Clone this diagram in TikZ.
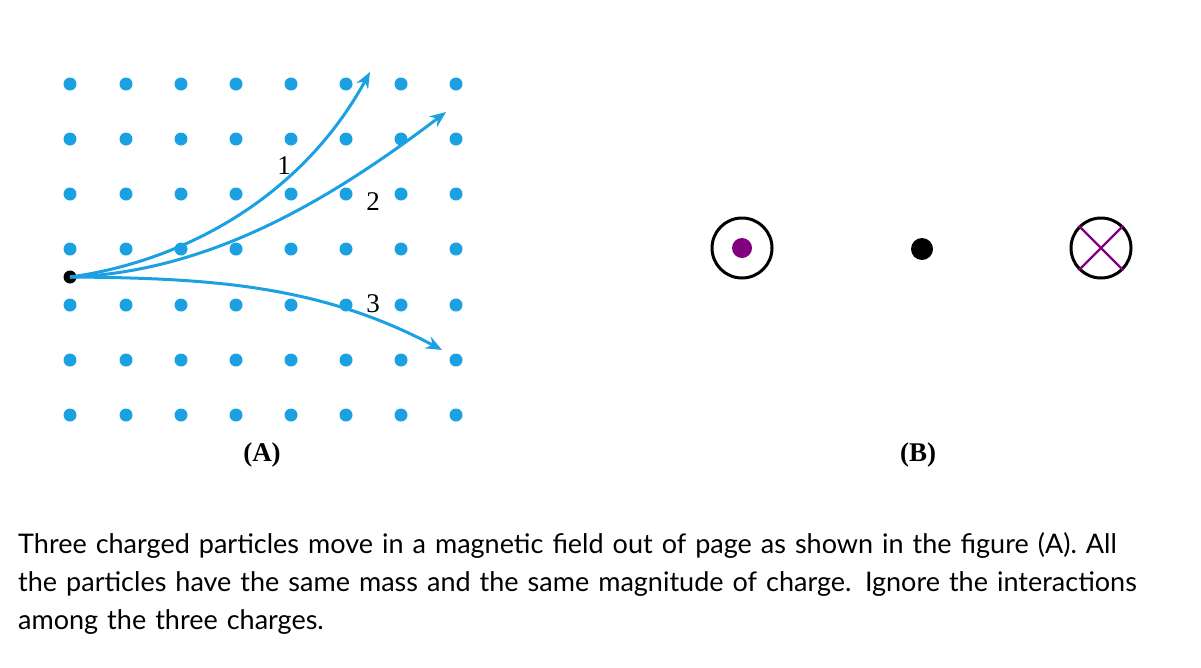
\documentclass[tikz,border=0pt]{standalone}
\usepackage{fontspec}
\setmainfont{Lato}
\newfontfamily\serifA{Liberation Serif}
\usetikzlibrary{arrows.meta}
\definecolor{fieldblue}{RGB}{27,161,226}
\definecolor{purp}{RGB}{128,0,128}
\tikzset{
 fdot/.style={circle,fill=fieldblue,inner sep=0pt,minimum size=13pt},
 path/.style={fieldblue,line width=3pt,-{Stealth[length=16pt,width=13pt]}},
 lab/.style={font=\serifA\fontsize{27}{29}\selectfont,inner sep=1pt},
 ring/.style={circle,draw=black,line width=3pt,minimum size=60pt,inner sep=0pt}
}
\begin{document}
\begin{tikzpicture}[x=1pt,y=-1pt]
\useasboundingbox (0,0) rectangle (1201,667);
\foreach \i/\x in {0/70,1/126,2/181,3/236,4/291,5/346,6/401,7/456}{
 \foreach \j/\y in {0/84,1/139,2/194,3/249,4/305,5/360,6/415}{
  \node[fdot] (d\i\j) at (\x,\y) {};
 }}
\node[circle,fill=black,inner sep=0pt,minimum size=13pt] (p) at (70,277) {};
\coordinate (e1) at (370,72);
\coordinate (e2) at (446,112);
\coordinate (e3) at (442,350);
\draw[path] (p.center) .. controls (180,262) and (300,200) .. (e1);
\draw[path] (p.center) .. controls (210,272) and (330,200) .. (e2);
\draw[path] (p.center) .. controls (210,278) and (320,285) .. (e3);
\node[lab] (l1) at (284,166) {1};
\node[lab] (l2) at (373,202) {2};
\node[lab] (l3) at (373,304) {3};
\node[lab,font=\serifA\bfseries\fontsize{27}{29}\selectfont] (A) at (262,455) {(A)};
\node[lab,font=\serifA\bfseries\fontsize{27}{29}\selectfont] (B) at (918,455) {(B)};
\node[ring] (o1) at (742,248) {};
\node[circle,fill=purp,inner sep=0pt,minimum size=20pt] (o1d) at (742,248) {};
\node[circle,fill=black,inner sep=0pt,minimum size=22pt] (bd) at (922,249) {};
\node[ring] (o2) at (1101,248) {};
\draw[purp,line width=2.2pt] (o2.45) -- (o2.225) (o2.135) -- (o2.315);
\node[anchor=west,font=\fontsize{27}{38}\selectfont,align=left,inner sep=0pt,text width=1180pt] (t) at (18,583)
 {Three charged particles move in a magnetic field out of page as shown in the figure (A). All\\
 the particles have the same mass and the same magnitude of charge. Ignore the interactions\\
 among the three charges.};
\end{tikzpicture}
\end{document}
